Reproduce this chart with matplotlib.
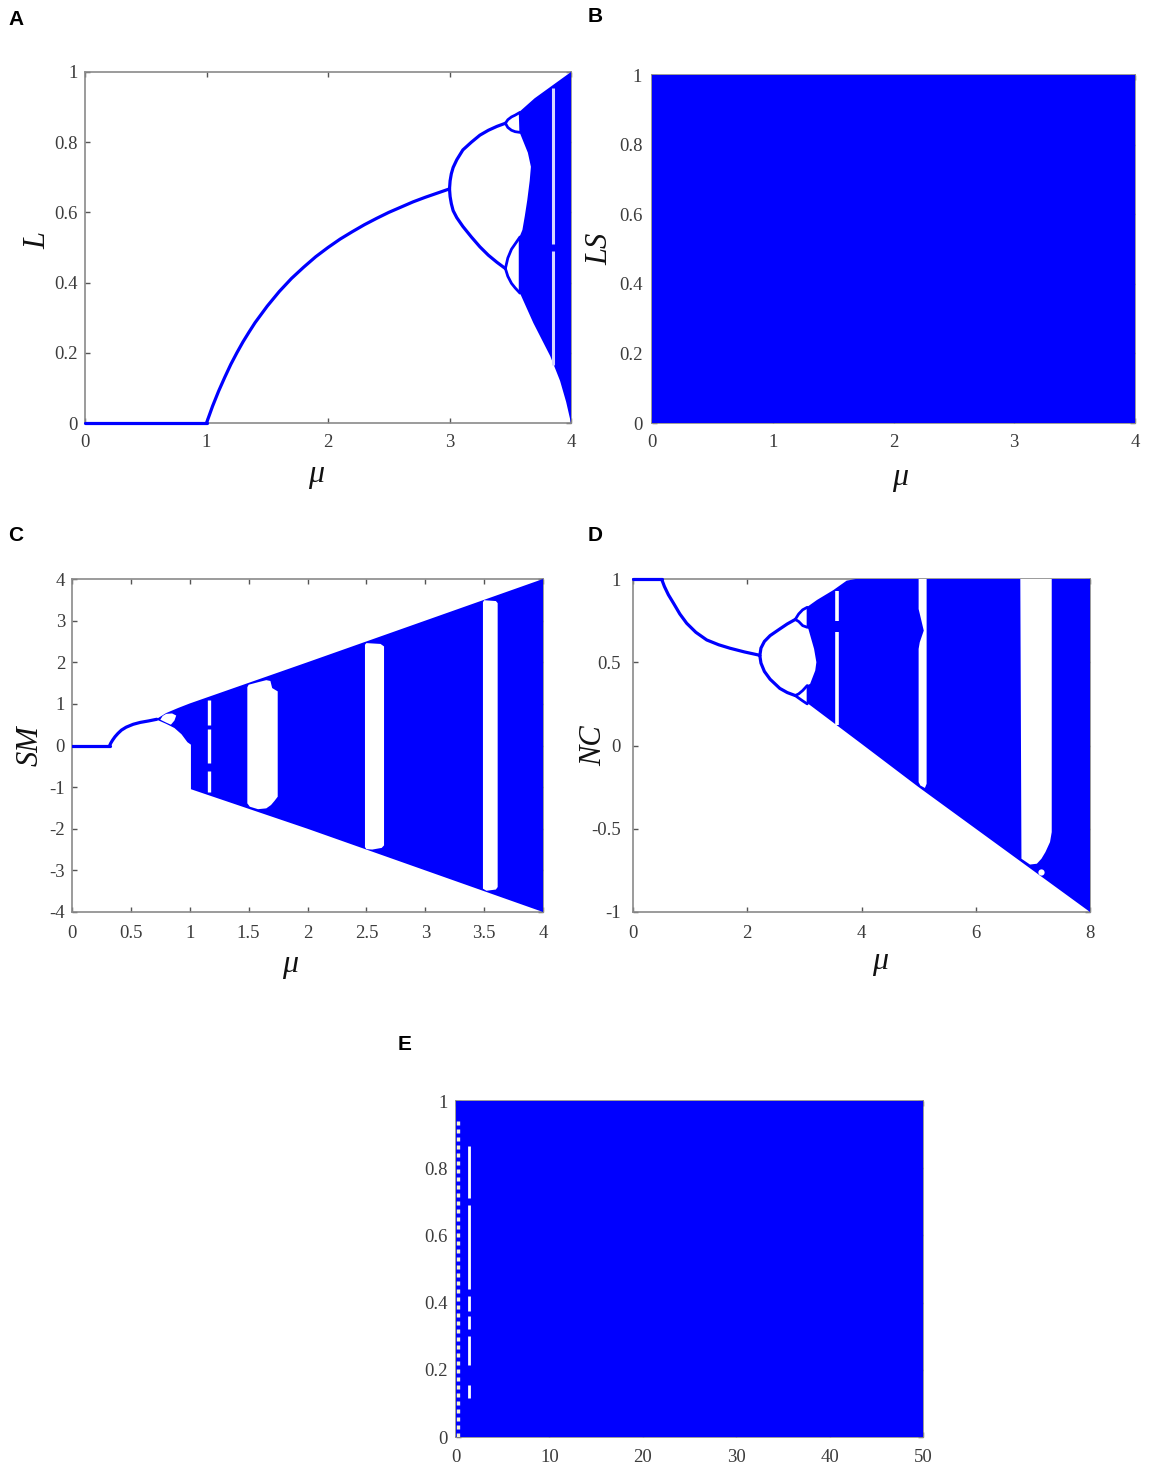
import matplotlib
matplotlib.use('Agg')
import matplotlib.pyplot as plt
import numpy as np

plt.rcParams['font.family'] = ['Liberation Serif', 'DejaVu Serif']
plt.rcParams['axes.unicode_minus'] = False

BLUE = '#0000FF'

# ---------------- Panel A : L map ----------------
a_mu_zero = [0.0, 1.0]
a_L_zero = [0.0, 0.0]
a_mu_p1 = [1.0, 1.05, 1.1, 1.15, 1.2, 1.25, 1.3, 1.35, 1.4, 1.5, 1.6, 1.7, 1.8, 1.9,
           2.0, 2.1, 2.2, 2.3, 2.4, 2.5, 2.6, 2.7, 2.8, 2.9, 3.0]
a_L_p1 = [0.0, 0.048, 0.091, 0.13, 0.167, 0.2, 0.231, 0.259, 0.286, 0.333, 0.375, 0.412,
          0.444, 0.474, 0.5, 0.524, 0.545, 0.565, 0.583, 0.6, 0.615, 0.63, 0.643, 0.655, 0.667]
a_mu_p2 = [3.0, 3.005, 3.015, 3.03, 3.06, 3.11, 3.18, 3.25, 3.32, 3.39, 3.46]
a_L_p2_up = [0.667, 0.69, 0.71, 0.728, 0.75, 0.778, 0.80, 0.82, 0.834, 0.845, 0.854]
a_L_p2_lo = [0.667, 0.645, 0.625, 0.605, 0.585, 0.56, 0.53, 0.502, 0.478, 0.458, 0.44]
a_mu_p4 = [3.46, 3.48, 3.51, 3.54, 3.58]
a_L_p4_a = [0.854, 0.864, 0.872, 0.877, 0.885]
a_L_p4_b = [0.854, 0.842, 0.834, 0.83, 0.828]
a_L_p4_c = [0.44, 0.47, 0.495, 0.51, 0.53]
a_L_p4_d = [0.44, 0.418, 0.398, 0.385, 0.37]
a_mu_top = [3.57, 3.7, 3.8, 3.9, 4.0]
a_L_top = [0.885, 0.925, 0.95, 0.975, 1.0]
a_mu_bot = [4.0, 3.96, 3.91, 3.83, 3.69, 3.58, 3.57]
a_L_bot = [0.0, 0.06, 0.12, 0.19, 0.285, 0.37, 0.37]
a_mu_notch = [3.57, 3.60, 3.62, 3.64, 3.66, 3.67, 3.645, 3.61, 3.575]
a_L_notch = [0.525, 0.55, 0.59, 0.635, 0.69, 0.73, 0.77, 0.80, 0.83]
a_win_mu = 3.855
a_win_lo = [0.165, 0.51]
a_win_hi = [0.49, 0.955]

# ---------------- Panel B : LS map ----------------
b_mu = [0.0, 4.0]
b_LS_lo = [0.0, 0.0]
b_LS_hi = [1.0, 1.0]

# ---------------- Panel C : SM map ----------------
c_mu_zero = [0.0, 0.32]
c_sm_zero = [0.0, 0.0]
c_mu_p1 = [0.32, 0.33, 0.345, 0.365, 0.39, 0.42, 0.46, 0.52, 0.58, 0.65, 0.72]
c_sm_p1 = [0.0, 0.06, 0.13, 0.21, 0.29, 0.37, 0.44, 0.51, 0.555, 0.59, 0.63]
c_mu_top = [0.72, 0.8, 0.9, 1.0, 2.0, 3.0, 4.0]
c_sm_top = [0.64, 0.78, 0.9, 1.01, 2.0, 3.0, 4.0]
c_mu_bot = [4.0, 3.0, 2.0, 1.01, 1.01, 0.98, 0.93, 0.87, 0.8, 0.72]
c_sm_bot = [-4.0, -3.0, -2.0, -1.05, 0.02, 0.08, 0.27, 0.42, 0.52, 0.62]
c_hole_mu = [0.75, 0.77, 0.80, 0.85, 0.885, 0.87, 0.84, 0.80]
c_hole_sm = [0.62, 0.71, 0.76, 0.77, 0.72, 0.60, 0.50, 0.55]
c_dash_mu = 1.166
c_dash_lo = [0.49, -0.43, -1.11]
c_dash_hi = [1.09, 0.39, -0.61]
c_win2_mu = [1.489, 1.50, 1.58, 1.65, 1.685, 1.70, 1.747, 1.747, 1.72, 1.69, 1.65, 1.58, 1.51, 1.489]
c_win2_sm = [1.40, 1.46, 1.52, 1.57, 1.55, 1.38, 1.30, -1.23, -1.33, -1.43, -1.51, -1.53, -1.47, -1.39]
c_win3_mu = [2.488, 2.50, 2.62, 2.65, 2.65, 2.63, 2.55, 2.50, 2.488]
c_win3_sm = [2.42, 2.46, 2.44, 2.38, -2.40, -2.46, -2.50, -2.49, -2.44]
c_win4_mu = [3.49, 3.50, 3.60, 3.615, 3.615, 3.60, 3.52, 3.49]
c_win4_sm = [3.44, 3.49, 3.47, 3.42, -3.40, -3.46, -3.49, -3.44]

# ---------------- Panel D : NC map ----------------
d_mu_flat = [0.0, 0.5]
d_nc_flat = [1.0, 1.0]
d_mu_p1 = [0.5, 0.55, 0.62, 0.71, 0.82, 0.94, 1.1, 1.29, 1.5, 1.7, 1.95, 2.19, 2.22]
d_nc_p1 = [1.0, 0.955, 0.905, 0.854, 0.79, 0.734, 0.68, 0.634, 0.605, 0.584, 0.562, 0.544, 0.54]
d_mu_p2 = [2.22, 2.24, 2.3, 2.4, 2.57, 2.7, 2.84]
d_nc_p2_up = [0.54, 0.585, 0.625, 0.66, 0.70, 0.73, 0.757]
d_nc_p2_lo = [0.54, 0.495, 0.445, 0.398, 0.343, 0.318, 0.300]
d_mu_p4 = [2.84, 2.9, 2.97, 3.05]
d_nc_p4_a = [0.757, 0.79, 0.815, 0.83]
d_nc_p4_b = [0.757, 0.745, 0.72, 0.71]
d_nc_p4_c = [0.300, 0.31, 0.33, 0.36]
d_nc_p4_d = [0.300, 0.285, 0.268, 0.25]
d_mu_top = [3.04, 3.22, 3.51, 3.74, 3.9, 8.0]
d_nc_top = [0.83, 0.874, 0.934, 0.99, 1.0, 1.0]
d_mu_bot = [8.0, 7.0, 6.0, 5.0, 4.0, 3.07, 3.04]
d_nc_bot = [-1.0, -0.75, -0.5, -0.25, 0.01, 0.25, 0.25]
d_mu_notch = [3.04, 3.1, 3.19, 3.21, 3.17, 3.07, 3.04]
d_nc_notch = [0.36, 0.37, 0.45, 0.50, 0.58, 0.70, 0.71]
d_line_mu = 3.57
d_line_lo = [0.125, 0.75]
d_line_hi = [0.68, 0.93]
d_win5_mu = [5.0, 5.14, 5.14, 5.11, 5.03, 5.0, 5.0, 5.02, 5.09, 5.0]
d_win5_nc = [1.0, 1.0, -0.23, -0.255, -0.24, -0.22, 0.58, 0.62, 0.69, 0.82]
d_win7_mu = [6.78, 7.33, 7.33, 7.30, 7.22, 7.15, 7.07, 6.95, 6.80]
d_win7_nc = [1.0, 1.0, -0.52, -0.58, -0.64, -0.68, -0.71, -0.715, -0.68]
d_hole_mu = [7.14]
d_hole_nc = [-0.757]

# ---------------- Panel E ----------------
e_mu = [0.0, 50.0]
e_lo = [0.0, 0.0]
e_hi = [1.0, 1.0]
e_line_mu = 1.35
e_line_lo = [0.115, 0.214, 0.32, 0.375, 0.44, 0.71]
e_line_hi = [0.155, 0.30, 0.36, 0.42, 0.69, 0.866]
e_strip_mu = 0.25
e_strip_range = [0.0, 0.95]


def fmt(v):
    return '%g' % v


def style(ax, xlim, ylim, xticks, yticks, xpad=8, ypad=5):
    ax.set_xlim(*xlim)
    ax.set_ylim(*ylim)
    ax.set_xticks(xticks)
    ax.set_yticks(yticks)
    ax.set_xticklabels([fmt(v) for v in xticks])
    ax.set_yticklabels([fmt(v) for v in yticks])
    ax.tick_params(direction='in', top=True, right=True, length=3.5, width=1.0,
                   color='#555555', labelsize=13.5, labelcolor='#3c3c3c')
    ax.tick_params(axis='x', pad=xpad)
    ax.tick_params(axis='y', pad=ypad)
    for s in ax.spines.values():
        s.set_color('#8a8a8a')
        s.set_linewidth(1.2)


def line(ax, x, y, lw=2.3, clip=True):
    ax.plot(x, y, color=BLUE, lw=lw, zorder=3.2, solid_capstyle='round',
            solid_joinstyle='round', clip_on=clip)


def labels(ax, ytxt, ypos, xpos):
    if ytxt:
        ax.text(ypos[0], ypos[1], ytxt, transform=ax.transAxes, rotation=90,
                ha='center', va='center', fontsize=22, style='italic', color='#111111')
    if xpos is not None:
        ax.text(xpos[0], xpos[1], 'μ', transform=ax.transAxes,
                ha='center', va='center', fontsize=23, style='italic', color='#111111')


fig = plt.figure(figsize=(11.7, 14.76), dpi=100)
W, H = 1170.0, 1476.0


def add_ax(l, r, t, b):
    return fig.add_axes([l / W, 1 - b / H, (r - l) / W, (b - t) / H])


# ---- A
axA = add_ax(85, 571, 72, 423)
line(axA, a_mu_zero, a_L_zero, clip=False)
line(axA, a_mu_p1, a_L_p1)
line(axA, a_mu_p2, a_L_p2_up)
line(axA, a_mu_p2, a_L_p2_lo)
for arr in (a_L_p4_a, a_L_p4_b, a_L_p4_c, a_L_p4_d):
    line(axA, a_mu_p4, arr, lw=2.0)
axA.fill(a_mu_top + a_mu_bot + a_mu_notch, a_L_top + a_L_bot + a_L_notch,
         color=BLUE, lw=0, zorder=3)
axA.vlines([a_win_mu] * 2, a_win_lo, a_win_hi, colors='#d6d6ff', lw=2.2, zorder=3.3)
style(axA, (0, 4), (0, 1), [0, 1, 2, 3, 4], [0, 0.2, 0.4, 0.6, 0.8, 1.0], xpad=8, ypad=5)
labels(axA, 'L', (-0.097, 0.52), (0.475, -0.148))

# ---- B
axB = add_ax(652, 1135, 75, 423)
axB.fill_between(b_mu, b_LS_lo, b_LS_hi, color=BLUE, lw=0, zorder=3)
style(axB, (0, 4), (0, 1), [0, 1, 2, 3, 4], [0, 0.2, 0.4, 0.6, 0.8, 1.0], xpad=8, ypad=7)
labels(axB, 'LS', (-0.108, 0.5), (0.513, -0.158))

# ---- C
axC = add_ax(72, 543, 579, 912)
line(axC, c_mu_zero, c_sm_zero)
line(axC, c_mu_p1, c_sm_p1)
axC.fill(c_mu_top + c_mu_bot, c_sm_top + c_sm_bot, color=BLUE, lw=0, zorder=3)
for mx, my in ((c_hole_mu, c_hole_sm), (c_win2_mu, c_win2_sm),
               (c_win3_mu, c_win3_sm), (c_win4_mu, c_win4_sm)):
    axC.fill(mx, my, color='white', lw=0, zorder=3.1)
axC.vlines([c_dash_mu] * 3, c_dash_lo, c_dash_hi, colors='white', lw=2.4, zorder=3.3)
style(axC, (0, 4), (-4, 4), [0, 0.5, 1, 1.5, 2, 2.5, 3, 3.5, 4], list(range(-4, 5)),
      xpad=9, ypad=5)
labels(axC, 'SM', (-0.089, 0.5), (0.463, -0.159))

# ---- D
axD = add_ax(633, 1090, 579, 912)
line(axD, d_mu_flat, d_nc_flat, clip=False)
line(axD, d_mu_p1, d_nc_p1)
line(axD, d_mu_p2, d_nc_p2_up)
line(axD, d_mu_p2, d_nc_p2_lo)
for arr in (d_nc_p4_a, d_nc_p4_b, d_nc_p4_c, d_nc_p4_d):
    line(axD, d_mu_p4, arr, lw=2.0)
axD.fill(d_mu_top + d_mu_bot + d_mu_notch, d_nc_top + d_nc_bot + d_nc_notch,
         color=BLUE, lw=0, zorder=3)
axD.fill(d_win5_mu, d_win5_nc, color='white', lw=0, zorder=3.1)
axD.fill(d_win7_mu, d_win7_nc, color='white', lw=0, zorder=3.1)
axD.plot(d_hole_mu, d_hole_nc, 'o', color='white', ms=4.5, mew=0, zorder=3.3)
axD.vlines([d_line_mu] * 2, d_line_lo, d_line_hi, colors='white', lw=2.6, zorder=3.3)
style(axD, (0, 8), (-1, 1), [0, 2, 4, 6, 8], [-1, -0.5, 0, 0.5, 1], xpad=9, ypad=9)
labels(axD, 'NC', (-0.085, 0.5), (0.54, -0.150))

# ---- E
axE = add_ax(456, 923, 1101, 1437)
axE.fill_between(e_mu, e_lo, e_hi, color=BLUE, lw=0, zorder=3)
axE.plot([e_strip_mu] * 2, e_strip_range, color='#f2f2d8', lw=2.4,
         ls=(0, (1.2, 1.2)), zorder=3.2)
axE.vlines([e_line_mu] * len(e_line_lo), e_line_lo, e_line_hi, colors='white',
           lw=2.0, zorder=3.3)
style(axE, (0, 50), (0, 1), [0, 10, 20, 30, 40, 50], [0, 0.2, 0.4, 0.6, 0.8, 1.0],
      xpad=9, ypad=6)

# ---- panel letters
for letter, px, py in (('A', 8, 10), ('B', 588, 7), ('C', 8, 526), ('D', 588, 526),
                       ('E', 398, 1035)):
    fig.text(px / W, 1 - py / H, letter, ha='left', va='top', fontsize=15,
             fontweight='bold', family=['Liberation Sans', 'DejaVu Sans'])

fig.savefig('out.png', dpi=100)
